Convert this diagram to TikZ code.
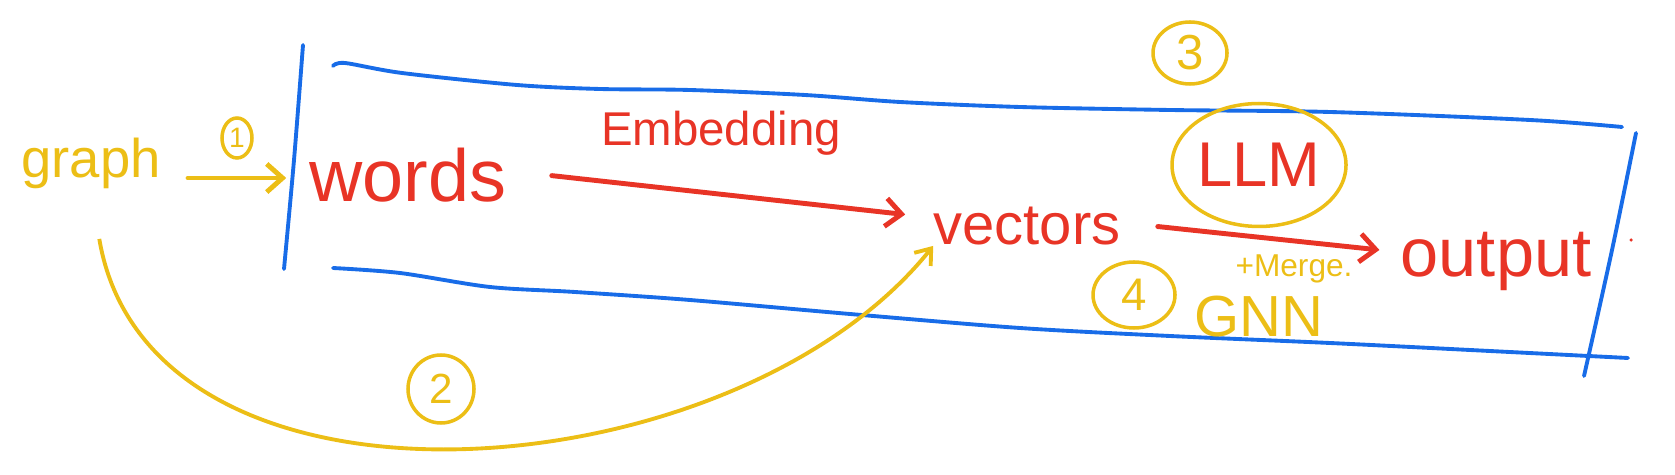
\documentclass[tikz,border=0pt]{standalone}
\usepackage{amsmath, amssymb}
\usepackage{fontspec}
\setmainfont{Liberation Sans}
\usetikzlibrary{arrows.meta, shapes.geometric}

\definecolor{merah}{RGB}{232,52,38}
\definecolor{kuning}{RGB}{236,190,22}
\definecolor{biru}{RGB}{24,108,232}

\begin{document}
\begin{tikzpicture}[x=0.02cm, y=-0.02cm,
    tulisan/.style={anchor=base, inner sep=0pt},
    angka/.style={draw=kuning, text=kuning, ellipse, inner sep=0pt, line width=2pt},
    panah/.style={line width=2.8pt, line cap=round, -{Straight Barb[length=9pt, width=16pt]}},
    garis/.style={draw=biru, line width=2.2pt, line cap=round}]
    \useasboundingbox (0,0) rectangle (1675,475);

    % Kotak biru
    \draw[garis] plot[smooth] coordinates {(303,45) (294,160) (284,269)};
    \draw[garis] plot[smooth] coordinates {(333,66) (345,63) (402,73) (517,85) (600,89) (690,90) (805,95) (900,102) (1020,107) (1170,110) (1330,112) (1530,120) (1622,127)};
    \draw[garis] plot[smooth] coordinates {(333,268) (400,273) (490,287) (575,292) (690,300) (850,314) (1020,328) (1170,336) (1330,343) (1470,350) (1628,358)};
    \draw[garis] plot[smooth] coordinates {(1636,133) (1612,250) (1584,376)};

    % Tulisan
    \node[tulisan, text=kuning, font=\fontsize{31}{36}\selectfont] (graph) at (91,178) {graph};
    \node[tulisan, text=merah, font=\fontsize{42}{48}\selectfont] (words) at (408,202) {words};
    \node[tulisan, text=merah, font=\fontsize{27}{32}\selectfont] (embedding) at (721,146) {Embedding};
    \node[tulisan, text=merah, font=\fontsize{33}{38}\selectfont] (vectors) at (1027,245) {vectors};
    \node[tulisan, text=merah, font=\fontsize{39}{44}\selectfont] (output) at (1496,277) {output};
    \node[tulisan, text=kuning, font=\fontsize{18}{20}\selectfont] (merge) at (1294,277) {+Merge.};
    \node[tulisan, text=kuning, font=\fontsize{33}{38}\selectfont] (gnn) at (1259,337) {GNN};
    \node[angka, text=merah, minimum width=3.38cm, minimum height=2.46cm,
        font=\fontsize{36}{40}\selectfont] (llm) at (1259,165) {LLM};

    % Nomor langkah
    \foreach \n/\x/\y/\w/\h/\s in {1/237/138/30/40/16, 2/441/389/66/68/24, 3/1190/53/74/62/28, 4/1134/295/82/66/26}
        \node[angka, minimum width=\w*0.02cm, minimum height=\h*0.02cm,
            font=\fontsize{\s}{\s}\selectfont] (c\n) at (\x,\y) {\n};

    % Panah
    \draw[panah, kuning, shorten <=0.54cm, shorten >=0.46cm] (graph.base east) -- (graph.base east -| words.west);
    \draw[panah, merah] ([xshift=0.9cm]words.east) -- ([xshift=-0.56cm, yshift=0.24cm]vectors.west);
    \draw[panah, merah] ([xshift=0.74cm]vectors.east) -- ([xshift=-0.42cm, yshift=0.24cm]output.west);

    % Lengkung graph ke vectors
    \draw[kuning, line width=2.2pt, -{Straight Barb[length=8pt, width=12pt]}, shorten <=1cm]
        (graph.south) .. controls (150,540) and (734,495) .. (vectors.south west);

    % Titik kecil
    \fill[merah] (1631,240) circle (1pt);
\end{tikzpicture}
\end{document}
